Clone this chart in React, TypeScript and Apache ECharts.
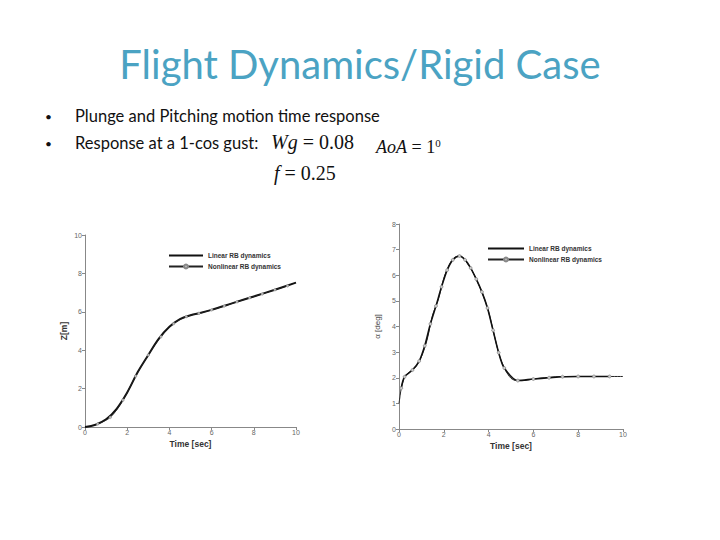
import React, { useEffect, useRef } from "react";
import * as echarts from "echarts";

// Left chart: plunge Z[m] vs time
const zTime = [0, 0.5, 1, 1.5, 2, 2.5, 3, 3.5, 4, 4.5, 5, 5.5, 6, 7, 8, 9, 10];
const zLinear = [0, 0.12, 0.4, 0.95, 1.8, 2.86, 3.75, 4.6, 5.22, 5.62, 5.82, 5.95, 6.1, 6.45, 6.8, 7.15, 7.52];
const zNlTime = [0.6, 1.2, 1.8, 2.4, 3.0, 3.6, 4.2, 4.8, 5.4, 6.0, 6.6, 7.2, 7.8, 8.4, 9.0, 9.6];
const zNonlinear = [0.16, 0.5, 1.4, 2.65, 3.75, 4.7, 5.38, 5.75, 5.92, 6.1, 6.3, 6.52, 6.73, 6.93, 7.15, 7.35];

// Right chart: alpha [deg] vs time
const aTime = [0, 0.05, 0.1, 0.2, 0.3, 0.5, 0.75, 1.0, 1.25, 1.5, 1.75, 2.0, 2.25, 2.5, 2.75, 3.0, 3.25, 3.5, 3.75, 4.0, 4.25, 4.5, 4.75, 5.0, 5.25, 5.5, 6, 6.5, 7, 8, 9, 10];
const aLinear = [1.0, 1.3, 1.59, 1.92, 2.1, 2.24, 2.43, 2.82, 3.47, 4.45, 5.03, 5.88, 6.42, 6.7, 6.75, 6.53, 6.2, 5.75, 5.23, 4.58, 3.67, 2.82, 2.3, 1.98, 1.89, 1.89, 1.95, 2.0, 2.04, 2.05, 2.05, 2.05];
const aNlTime = [0.1, 0.25, 0.6, 0.9, 1.15, 1.4, 1.65, 1.9, 2.15, 2.4, 2.7, 2.95, 3.2, 3.45, 3.7, 3.95, 4.2, 4.45, 4.7, 5.3, 6.0, 6.7, 7.3, 8.0, 8.7, 9.4];
const aNonlinear = [1.59, 2.04, 2.3, 2.65, 3.25, 4.1, 4.8, 5.55, 6.2, 6.6, 6.75, 6.6, 6.28, 5.85, 5.35, 4.72, 3.85, 2.98, 2.38, 1.89, 1.95, 2.0, 2.04, 2.05, 2.05, 2.05];

const titleText = "Flight Dynamics/Rigid Case";
const bullets = ["Plunge and Pitching motion time response", "Response at a 1-cos gust:"];
const seriesNames = ["Linear RB dynamics", "Nonlinear RB dynamics"];

const pairs = (xs: number[], ys: number[]) => xs.map((x, i) => [x, ys[i]]);

const axisFont = { fontSize: 7, color: "#666", fontFamily: "Liberation Sans, Arial" };

export default function App() {
  const ref = useRef<HTMLDivElement>(null);
  useEffect(() => {
    if (!ref.current) return;
    const chart = echarts.init(ref.current, undefined, { renderer: "svg" });
    const xAxisBase = {
      type: "value",
      min: 0,
      max: 10,
      interval: 2,
      name: "Time [sec]",
      nameLocation: "middle",
      nameGap: 12,
      nameTextStyle: { fontSize: 8.5, fontWeight: "bold", color: "#333", fontFamily: "Liberation Sans, Arial" },
      axisLine: { show: true, lineStyle: { color: "#888", width: 1 } },
      axisTick: { show: true, length: 3, lineStyle: { color: "#888" } },
      axisLabel: { ...axisFont, margin: 2 },
      splitLine: { show: false },
    };
    const legendData = [
      { name: seriesNames[0], itemStyle: { opacity: 0 } },
      { name: seriesNames[1] },
    ];
    chart.setOption({
      animation: false,
      backgroundColor: "#fff",
      graphic: [
        {
          type: "text",
          left: "center",
          top: 44,
          style: { text: titleText, fontSize: 40, fill: "#4BA3C3", fontFamily: "Lato, Open Sans, sans-serif" },
        },
        ...bullets.flatMap((b, i) => [
          { type: "text", x: 45, y: 110 + i * 27, style: { text: "•", fontSize: 12, fill: "#111", fontFamily: "Lato" } },
          { type: "text", x: 75, y: 107 + i * 27, style: { text: b, fontSize: 16.5, fill: "#111", fontFamily: "Lato, sans-serif" } },
        ]),
        {
          type: "text",
          x: 271,
          y: 132,
          style: {
            text: "{i|Wg}{n| = 0.08}",
            rich: {
              i: { fontSize: 20, fontStyle: "italic", fontFamily: "Liberation Serif", fill: "#111" },
              n: { fontSize: 20, fontFamily: "Liberation Serif", fill: "#111" },
            },
          },
        },
        {
          type: "text",
          x: 376,
          y: 137,
          style: {
            text: "{i|AoA}{n| = 1}{s|0}",
            rich: {
              i: { fontSize: 18, fontStyle: "italic", fontFamily: "Liberation Serif", fill: "#111" },
              n: { fontSize: 18, fontFamily: "Liberation Serif", fill: "#111" },
              s: { fontSize: 11, fontFamily: "Liberation Serif", fill: "#111", verticalAlign: "top", padding: [0, 0, 8, 0] },
            },
          },
        },
        {
          type: "text",
          x: 274,
          y: 163,
          style: {
            text: "{i|f}{n| = 0.25}",
            rich: {
              i: { fontSize: 20, fontStyle: "italic", fontFamily: "Liberation Serif", fill: "#111" },
              n: { fontSize: 20, fontFamily: "Liberation Serif", fill: "#111" },
            },
          },
        },
      ],
      grid: [
        { left: 85, top: 235, width: 211, height: 192 },
        { left: 399, top: 224, width: 224, height: 205 },
      ],
      xAxis: [
        { ...xAxisBase, gridIndex: 0 },
        { ...xAxisBase, gridIndex: 1 },
      ],
      yAxis: [
        {
          type: "value",
          gridIndex: 0,
          min: 0,
          max: 10,
          interval: 2,
          name: "Z[m]",
          nameLocation: "middle",
          nameGap: 17,
          nameTextStyle: { fontSize: 8.5, fontWeight: "bold", color: "#333", fontFamily: "Liberation Sans, Arial" },
          axisLine: { show: true, lineStyle: { color: "#888", width: 1 } },
          axisTick: { show: true, length: 3, lineStyle: { color: "#888" } },
          axisLabel: { ...axisFont, margin: 3 },
          splitLine: { show: false },
        },
        {
          type: "value",
          gridIndex: 1,
          min: 0,
          max: 8,
          interval: 1,
          name: "α [deg]",
          nameLocation: "middle",
          nameGap: 18,
          nameTextStyle: { fontSize: 8, color: "#444", fontFamily: "Liberation Sans, Arial" },
          axisLine: { show: true, lineStyle: { color: "#888", width: 1 } },
          axisTick: { show: true, length: 3, lineStyle: { color: "#888" } },
          axisLabel: { ...axisFont, margin: 3 },
          splitLine: { show: false },
        },
      ],
      legend: [
        {
          left: 163,
          top: 247,
          orient: "vertical",
          itemWidth: 34,
          itemHeight: 5,
          itemGap: 4,
          data: legendData,
          textStyle: { fontSize: 6.5, fontWeight: "bold", color: "#333", fontFamily: "Liberation Sans, Arial" },
        },
        {
          left: 482,
          top: 240,
          orient: "vertical",
          itemWidth: 36,
          itemHeight: 5,
          itemGap: 4,
          data: legendData,
          textStyle: { fontSize: 6.5, fontWeight: "bold", color: "#333", fontFamily: "Liberation Sans, Arial" },
        },
      ],
      series: [
        {
          name: seriesNames[0],
          type: "line",
          xAxisIndex: 0,
          yAxisIndex: 0,
          data: pairs(zTime, zLinear),
          smooth: 0.35,
          showSymbol: false,
          symbol: "none",
          lineStyle: { color: "#111", width: 2 },
          itemStyle: { color: "#111" },
        },
        {
          name: seriesNames[1],
          type: "line",
          xAxisIndex: 0,
          yAxisIndex: 0,
          data: pairs(zNlTime, zNonlinear),
          smooth: 0.35,
          symbol: "circle",
          symbolSize: 2.5,
          lineStyle: { color: "#222", width: 0.8 },
          itemStyle: { color: "#bbb", borderColor: "#888", borderWidth: 0.5 },
        },
        {
          name: seriesNames[0],
          type: "line",
          xAxisIndex: 1,
          yAxisIndex: 1,
          data: pairs(aTime, aLinear),
          smooth: 0.3,
          showSymbol: false,
          symbol: "none",
          lineStyle: { color: "#222", width: 1 },
          itemStyle: { color: "#222" },
        },
        {
          name: seriesNames[1],
          type: "line",
          xAxisIndex: 1,
          yAxisIndex: 1,
          data: pairs(aNlTime, aNonlinear),
          smooth: 0.3,
          symbol: "circle",
          symbolSize: 3,
          lineStyle: { color: "#111", width: 1.6 },
          itemStyle: { color: "#ccc", borderColor: "#777", borderWidth: 0.6 },
        },
      ],
    });
    return () => chart.dispose();
  }, []);
  return (
    <div
      ref={ref}
      style={{ position: "fixed", left: 0, top: 0, width: 720, height: 540, background: "#fff" }}
    />
  );
}
